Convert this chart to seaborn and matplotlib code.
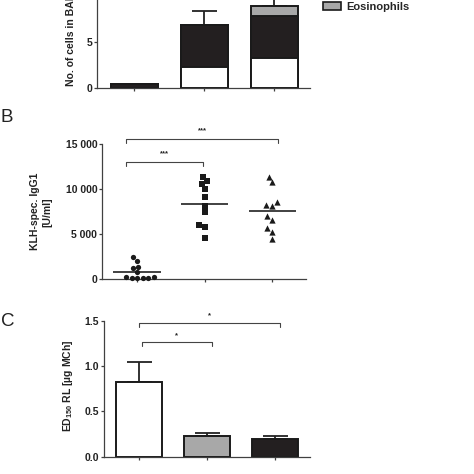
import matplotlib
matplotlib.use("Agg")
import numpy as np
import pandas as pd
import seaborn as sns
import matplotlib.pyplot as plt
from matplotlib.patches import Patch
from matplotlib.ticker import FuncFormatter

# === Data ===
groups = ["Group 1", "Group 2", "Group 3"]

# panel A: stacked cell counts in BAL
macro = [0.05, 2.3, 3.3]
lymph = [0.38, 4.55, 4.55]
eos = [0.0, 0.0, 1.05]
cells_sem = [0.02, 1.55, 1.4]

# panel B: KLH-specific IgG1 [U/ml]
igg_g1 = [2440, 2030, 1400, 1220, 810, 290, 180, 200, 310, 140, 200]
igg_g2 = [11400, 10590, 10890, 10000, 9110, 8180, 7510, 6030, 5840, 4620]
igg_g3 = [11400, 10780, 8290, 8140, 8590, 6590, 7030, 5730, 5260, 4480]
markers = ["o", "s", "^"]
marker_sizes = [3.8, 4.3, 4.5]

# panel C: ED150 RL
ed150_mean = [0.82, 0.225, 0.20]
ed150_sem = [0.224, 0.033, 0.032]
bar_colors_c = ["white", "#a8a8a8", "#231f20"]

# === Style ===
sns.set_style("ticks")
plt.rcParams["font.family"] = ["Liberation Sans", "DejaVu Sans"]
plt.rcParams["mathtext.fontset"] = "custom"
plt.rcParams["mathtext.rm"] = "Liberation Sans"
plt.rcParams["mathtext.bf"] = "Liberation Sans:bold"
plt.rcParams["axes.edgecolor"] = "#404040"
plt.rcParams["axes.linewidth"] = 0.9
plt.rcParams["xtick.major.size"] = 2.5
plt.rcParams["ytick.major.size"] = 2.5
plt.rcParams["xtick.major.width"] = 0.9
plt.rcParams["ytick.major.width"] = 0.9
plt.rcParams["xtick.color"] = "#404040"
plt.rcParams["ytick.color"] = "#404040"

W = 474
fig = plt.figure(figsize=(4.74, 4.74), dpi=100)


def px_axes(left, right, top, bottom):
    return fig.add_axes([left / W, 1 - bottom / W, (right - left) / W, (bottom - top) / W])


def style_axes(ax):
    sns.despine(ax=ax)
    ax.set_xticks(range(3))
    ax.set_xticklabels([])
    ax.set_xlabel("")
    for lab in ax.get_yticklabels():
        lab.set_fontweight("bold")
        lab.set_fontsize(7.5)
        lab.set_color("#222222")
    ax.tick_params(axis="y", pad=1)


def bracket(ax, x0, x1, y, drop, stars, sy):
    ax.plot([x0, x0, x1, x1], [y - drop, y, y, y - drop], color="#444444", lw=0.8, clip_on=False)
    ax.text((x0 + x1) / 2, sy, stars, ha="center", va="center", fontsize=5.5, fontweight="bold", color="#222222")


# === Panel A ===
axA = px_axes(97, 310, -4, 88)
total = np.array(macro) + np.array(lymph) + np.array(eos)
ml = np.array(macro) + np.array(lymph)
axA.errorbar(range(3), total, yerr=[np.zeros(3), cells_sem], fmt="none", ecolor="#222222",
             elinewidth=1.3, capsize=9, capthick=1.3, zorder=1)
for heights, col in [(total, "#a8a8a8"), (ml, "#231f20"), (np.array(macro), "white")]:
    sns.barplot(x=groups, y=heights, color=col, saturation=1, edgecolor="#1a1a1a", linewidth=1.4,
                width=0.67, errorbar=None, ax=axA, zorder=2)
axA.set_xlim(-0.53, 2.51)
axA.set_ylim(0, 10)
axA.set_yticks([0, 5])
style_axes(axA)
# y label runs off the top edge, as in the cropped original
fig.text(71 / W, 1 - 86 / W, "No. of cells in BAL", rotation=90, ha="center", va="bottom",
         fontsize=7.5, fontweight="bold", color="#222222")
fig.legend(handles=[Patch(facecolor="#a8a8a8", edgecolor="#1a1a1a", linewidth=1.2, label="Eosinophils")],
           loc="center left", bbox_to_anchor=(313 / W, 1 - 7 / W), frameon=False, handlelength=1.6,
           handleheight=0.8, handletextpad=0.5, prop={"weight": "bold", "size": 8})

# === Panel B ===
axB = px_axes(102, 306, 144.3, 279.3)
igg = pd.DataFrame({
    "group": [groups[0]] * len(igg_g1) + [groups[1]] * len(igg_g2) + [groups[2]] * len(igg_g3),
    "value": igg_g1 + igg_g2 + igg_g3,
})
for g, m, s in zip(groups, markers, marker_sizes):
    sub = igg[igg["group"] == g]
    sns.swarmplot(data=sub, x="group", y="value", order=groups, marker=m, color="#1a1a1a",
                  size=s, ax=axB, clip_on=False, zorder=3)
    mean = sub["value"].mean()
    axB.hlines(mean, groups.index(g) - 0.35, groups.index(g) + 0.35, color="#333333", lw=1.3, zorder=2)
axB.set_xlim(-0.52, 2.5)
axB.set_ylim(0, 15000)
axB.set_yticks([0, 5000, 10000, 15000])
axB.yaxis.set_major_formatter(FuncFormatter(lambda v, p: f"{int(v):,}".replace(",", " ")))
axB.set_ylabel("KLH-spec. IgG1\n[U/ml]", fontsize=7.5, fontweight="bold", color="#222222", linespacing=1.3)
axB.yaxis.set_label_coords(-(102 - 52) / 204, 0.5)
style_axes(axB)
bracket(axB, -0.16, 2.09, 15556, 450, "***", 16500)
bracket(axB, -0.16, 0.98, 13067, 450, "***", 13900)

# === Panel C ===
axC = px_axes(104, 310, 320.7, 456.7)
axC.errorbar(range(3), ed150_mean, yerr=[np.zeros(3), ed150_sem], fmt="none", ecolor="#222222",
             elinewidth=1.3, capsize=9, capthick=1.3, zorder=1)
sns.barplot(x=groups, y=ed150_mean, hue=groups, palette=bar_colors_c, saturation=1, legend=False,
            edgecolor="#1a1a1a", linewidth=1.4, width=0.68, errorbar=None, ax=axC, zorder=2)
axC.set_xlim(-0.51, 2.51)
axC.set_ylim(0, 1.5)
axC.set_yticks([0, 0.5, 1.0, 1.5])
axC.yaxis.set_major_formatter(FuncFormatter(lambda v, p: f"{v:.1f}"))
axC.set_ylabel(r"ED$_{\mathbf{150}}$ RL [µg MCh]", fontsize=7.5, fontweight="bold", color="#222222")
axC.yaxis.set_label_coords(-(104 - 75) / 206, 0.52)
style_axes(axC)
bracket(axC, 0.01, 2.07, 1.471, 0.045, "*", 1.55)
bracket(axC, 0.04, 1.07, 1.262, 0.045, "*", 1.33)

# panel letters
fig.text(1 / W, 1 - 117 / W, "B", fontsize=13.5, ha="left", va="center", color="#222222")
fig.text(1 / W, 1 - 322 / W, "C", fontsize=13.5, ha="left", va="center", color="#222222")

fig.savefig("out.png", dpi=100)
